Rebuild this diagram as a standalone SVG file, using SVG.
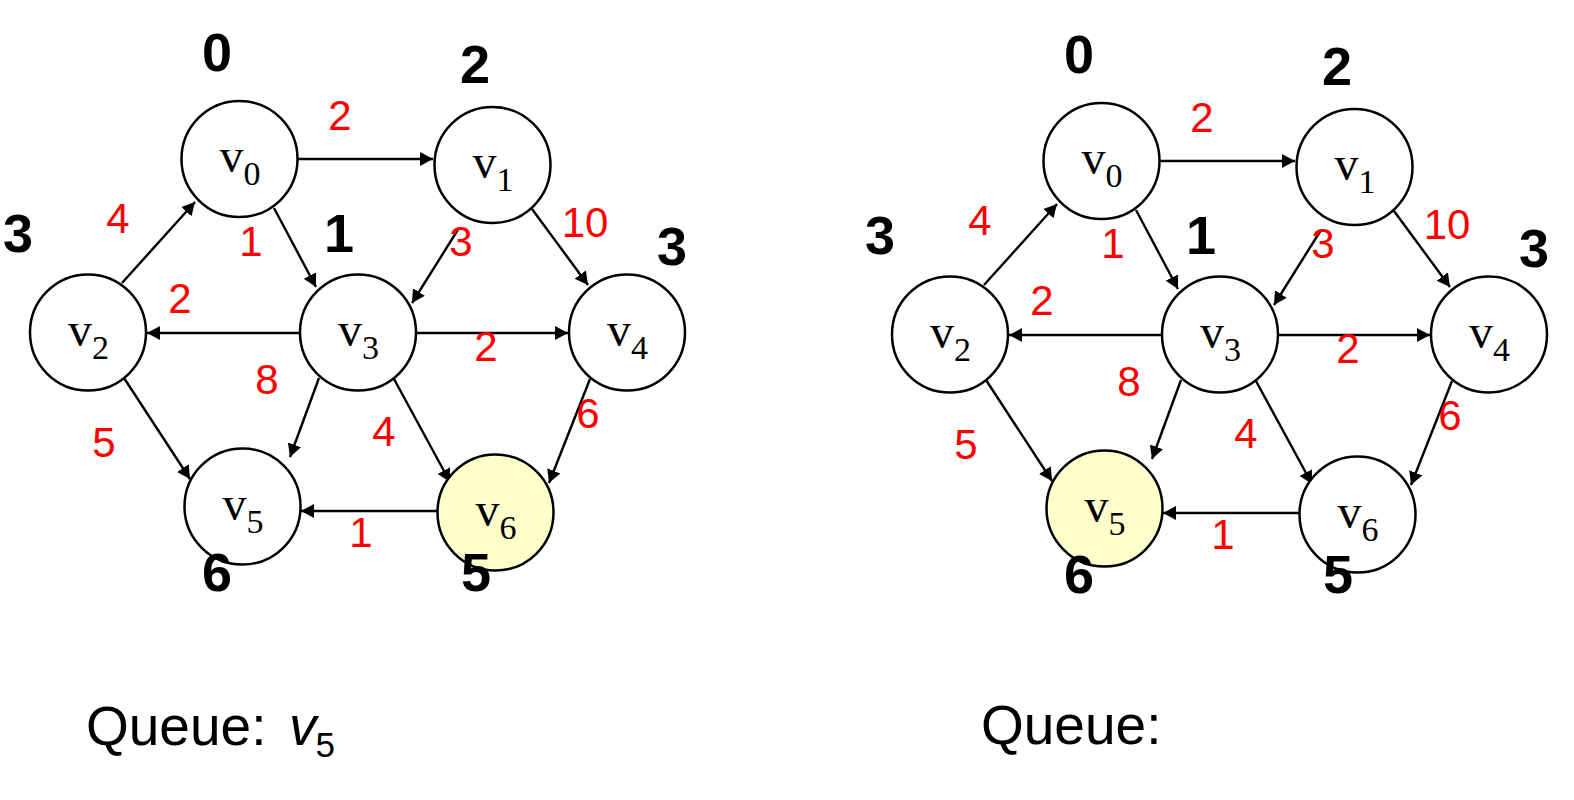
<svg xmlns="http://www.w3.org/2000/svg" width="1574" height="800" viewBox="0 0 1574 800">
  <style>
    .node { fill: #ffffff; stroke: #000000; stroke-width: 2.5; }
    .hl { fill: #ffffcc; }
    .edge { stroke: #000000; stroke-width: 2.4; fill: none; marker-end: url(#arrow); }
    .vname { font-family: "Liberation Serif", "Times New Roman", serif; font-size: 48px; fill: #000000; }
    .sub { font-size: 34px; }
    .dist { font-family: "Liberation Sans", Arial, sans-serif; font-weight: bold; font-size: 54px; fill: #000000; text-anchor: middle; }
    .w { font-family: "Liberation Sans", Arial, sans-serif; font-size: 42px; fill: #ff0000; text-anchor: middle; }
    .queue { font-family: "Liberation Sans", Arial, sans-serif; font-size: 55px; fill: #000000; }
  </style>
  <defs>
    <marker id="arrow" markerUnits="userSpaceOnUse" markerWidth="14" markerHeight="15" refX="13" refY="7" orient="auto">
      <path d="M0,0 L13,7 L0,14 Z" fill="#000000"/>
    </marker>
  </defs>
  <rect x="0" y="0" width="1574" height="800" fill="#ffffff"/>

  <!-- LEFT GRAPH -->
  <g id="left-graph">
    <g id="left-connectors">
      <line class="edge" x1="297" y1="159" x2="433" y2="159"/>
      <line class="edge" x1="274" y1="208" x2="316" y2="287"/>
      <line class="edge" x1="122" y1="283" x2="195" y2="202"/>
      <line class="edge" x1="300" y1="333" x2="147" y2="333"/>
      <line class="edge" x1="459" y1="228" x2="412" y2="303"/>
      <line class="edge" x1="532" y1="209" x2="588" y2="285"/>
      <line class="edge" x1="416" y1="333" x2="568" y2="333"/>
      <line class="edge" x1="124" y1="378" x2="190" y2="479"/>
      <line class="edge" x1="319" y1="378" x2="290" y2="457"/>
      <line class="edge" x1="394" y1="379" x2="450" y2="482"/>
      <line class="edge" x1="590" y1="379" x2="549" y2="483"/>
      <line class="edge" x1="437" y1="511" x2="301" y2="511"/>
    </g>
    <g id="left-weights">
      <text class="w" x="340" y="130">2</text>
      <text class="w" x="118" y="233">4</text>
      <text class="w" x="251" y="256">1</text>
      <text class="w" x="461" y="256">3</text>
      <text class="w" x="585" y="237">10</text>
      <text class="w" x="180" y="313">2</text>
      <text class="w" x="486" y="361">2</text>
      <text class="w" x="267" y="394">8</text>
      <text class="w" x="104" y="457">5</text>
      <text class="w" x="384" y="446">4</text>
      <text class="w" x="588" y="428">6</text>
      <text class="w" x="361" y="547">1</text>
    </g>
    <g id="left-v0">
      <circle class="node" cx="239.5" cy="159" r="58"/>
      <text class="vname" x="219.5" y="172">v<tspan class="sub" dy="13">0</tspan></text>
      <text class="dist" x="217" y="71">0</text>
    </g>
    <g id="left-v1">
      <circle class="node" cx="492.5" cy="165" r="58"/>
      <text class="vname" x="472.5" y="178">v<tspan class="sub" dy="13">1</tspan></text>
      <text class="dist" x="475" y="83">2</text>
    </g>
    <g id="left-v2">
      <circle class="node" cx="88" cy="332.5" r="58"/>
      <text class="vname" x="68" y="345.5">v<tspan class="sub" dy="13">2</tspan></text>
      <text class="dist" x="18" y="252">3</text>
    </g>
    <g id="left-v3">
      <circle class="node" cx="358" cy="332.5" r="58"/>
      <text class="vname" x="338" y="345.5">v<tspan class="sub" dy="13">3</tspan></text>
      <text class="dist" x="339" y="252">1</text>
    </g>
    <g id="left-v4">
      <circle class="node" cx="627" cy="332.5" r="58"/>
      <text class="vname" x="607" y="345.5">v<tspan class="sub" dy="13">4</tspan></text>
      <text class="dist" x="672" y="265">3</text>
    </g>
    <g id="left-v5">
      <circle class="node" cx="242.5" cy="506.5" r="58"/>
      <text class="vname" x="222.5" y="519.5">v<tspan class="sub" dy="13">5</tspan></text>
      <text class="dist" x="217" y="591">6</text>
    </g>
    <g id="left-v6">
      <circle class="node hl" cx="495.5" cy="512.5" r="58"/>
      <text class="vname" x="475.5" y="525.5">v<tspan class="sub" dy="13">6</tspan></text>
      <text class="dist" x="476" y="591">5</text>
    </g>
  </g>

  <!-- RIGHT GRAPH -->
  <g id="right-graph" transform="translate(862,2)">
    <g id="right-connectors">
      <line class="edge" x1="297" y1="159" x2="433" y2="159"/>
      <line class="edge" x1="274" y1="208" x2="316" y2="287"/>
      <line class="edge" x1="122" y1="283" x2="195" y2="202"/>
      <line class="edge" x1="300" y1="333" x2="147" y2="333"/>
      <line class="edge" x1="459" y1="228" x2="412" y2="303"/>
      <line class="edge" x1="532" y1="209" x2="588" y2="285"/>
      <line class="edge" x1="416" y1="333" x2="568" y2="333"/>
      <line class="edge" x1="124" y1="378" x2="190" y2="479"/>
      <line class="edge" x1="319" y1="378" x2="290" y2="457"/>
      <line class="edge" x1="394" y1="379" x2="450" y2="482"/>
      <line class="edge" x1="590" y1="379" x2="549" y2="483"/>
      <line class="edge" x1="437" y1="511" x2="301" y2="511"/>
    </g>
    <g id="right-weights">
      <text class="w" x="340" y="130">2</text>
      <text class="w" x="118" y="233">4</text>
      <text class="w" x="251" y="256">1</text>
      <text class="w" x="461" y="256">3</text>
      <text class="w" x="585" y="237">10</text>
      <text class="w" x="180" y="313">2</text>
      <text class="w" x="486" y="361">2</text>
      <text class="w" x="267" y="394">8</text>
      <text class="w" x="104" y="457">5</text>
      <text class="w" x="384" y="446">4</text>
      <text class="w" x="588" y="428">6</text>
      <text class="w" x="361" y="547">1</text>
    </g>
    <g id="right-v0">
      <circle class="node" cx="239.5" cy="159" r="58"/>
      <text class="vname" x="219.5" y="172">v<tspan class="sub" dy="13">0</tspan></text>
      <text class="dist" x="217" y="71">0</text>
    </g>
    <g id="right-v1">
      <circle class="node" cx="492.5" cy="165" r="58"/>
      <text class="vname" x="472.5" y="178">v<tspan class="sub" dy="13">1</tspan></text>
      <text class="dist" x="475" y="83">2</text>
    </g>
    <g id="right-v2">
      <circle class="node" cx="88" cy="332.5" r="58"/>
      <text class="vname" x="68" y="345.5">v<tspan class="sub" dy="13">2</tspan></text>
      <text class="dist" x="18" y="252">3</text>
    </g>
    <g id="right-v3">
      <circle class="node" cx="358" cy="332.5" r="58"/>
      <text class="vname" x="338" y="345.5">v<tspan class="sub" dy="13">3</tspan></text>
      <text class="dist" x="339" y="252">1</text>
    </g>
    <g id="right-v4">
      <circle class="node" cx="627" cy="332.5" r="58"/>
      <text class="vname" x="607" y="345.5">v<tspan class="sub" dy="13">4</tspan></text>
      <text class="dist" x="672" y="265">3</text>
    </g>
    <g id="right-v5">
      <circle class="node hl" cx="242.5" cy="506.5" r="58"/>
      <text class="vname" x="222.5" y="519.5">v<tspan class="sub" dy="13">5</tspan></text>
      <text class="dist" x="217" y="591">6</text>
    </g>
    <g id="right-v6">
      <circle class="node" cx="495.5" cy="512.5" r="58"/>
      <text class="vname" x="475.5" y="525.5">v<tspan class="sub" dy="13">6</tspan></text>
      <text class="dist" x="476" y="591">5</text>
    </g>
  </g>

  <!-- QUEUE LABELS -->
  <g id="queue-left">
    <text class="queue" x="86" y="745">Queue:</text>
    <text class="queue" x="289" y="745" font-style="italic" font-size="54">v<tspan font-size="35" font-style="normal" dy="12" dx="-1">5</tspan></text>
  </g>
  <g id="queue-right">
    <text class="queue" x="981" y="744">Queue:</text>
  </g>
</svg>
